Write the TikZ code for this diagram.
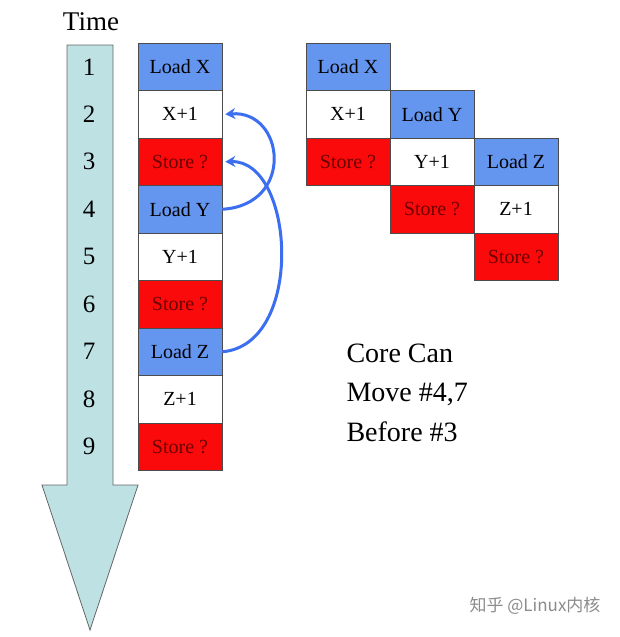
\documentclass[tikz,border=0pt]{standalone}
\usepackage{fontspec}
\setmainfont{Liberation Serif}
\newfontfamily\cjk{Noto Sans CJK SC}
\usetikzlibrary{arrows.meta}
\definecolor{cblue}{RGB}{100,150,240}
\definecolor{cred}{RGB}{250,10,10}
\definecolor{dred}{RGB}{110,0,0}
\definecolor{arrowfill}{RGB}{190,225,228}
\definecolor{arc}{RGB}{60,110,240}
\begin{document}
\begin{tikzpicture}[x=1pt,y=-1pt,
  cell/.style={draw=black!70,line width=0.6pt,minimum width=84pt,minimum height=47.5pt,inner sep=0pt,font=\fontsize{20}{20}\selectfont},
  ld/.style={cell,fill=cblue},
  inc/.style={cell,fill=white},
  st/.style={cell,fill=cred,text=dred},
  num/.style={font=\fontsize{25}{25}\selectfont},
  link/.style={draw=arc,line width=3pt,-{Stealth[length=10pt,width=11pt]}}]
\useasboundingbox (0,0) rectangle (620,637);
\fill[white] (0,0) rectangle (620,637);
\node[num,font=\fontsize{27}{27}\selectfont] (time) at (91,22) {Time};
\draw[fill=arrowfill,draw=black!60,line width=0.8pt] (67,45) -- (113,45) -- (113,485) -- (138,485) -- (90,630) -- (42,485) -- (67,485) -- cycle;
\foreach \i/\t/\s in {1/Load X/ld,2/X+1/inc,3/Store ?/st,4/Load Y/ld,5/Y+1/inc,6/Store ?/st,7/Load Z/ld,8/Z+1/inc,9/Store ?/st}{
  \node[\s] (c\i) at (180,{43+47.5*(\i-0.5)}) {\t};
  \node[num] (n\i) at (89,{43+47.5*(\i-0.5)}) {\i};
}
\foreach \n/\t/\s/\c/\r in {a1/Load X/ld/1/1,a2/X+1/inc/1/2,a3/Store ?/st/1/3,b1/Load Y/ld/2/2,b2/Y+1/inc/2/3,b3/Store ?/st/2/4,d1/Load Z/ld/3/3,d2/Z+1/inc/3/4,d3/Store ?/st/3/5}{
  \node[\s] (\n) at ({348+84*(\c-1)},{43+47.5*(\r-0.5)}) {\t};
}
\draw[link] (c4.east) .. controls (295,205) and (285,110) .. ([xshift=3pt]c2.east);
\draw[link] (c7.east) .. controls (305,345) and (295,160) .. ([xshift=3pt]c3.east);
\node[align=left,anchor=north west,font=\fontsize{28}{39.5}\selectfont] (txt) at (343,340) {Core Can\\Move \#4,7\\Before \#3};
\node[anchor=east,text=black!45,font=\cjk\fontsize{17}{17}\selectfont] (wm) at (604,606) {知乎 @Linux内核};
\end{tikzpicture}
\end{document}
